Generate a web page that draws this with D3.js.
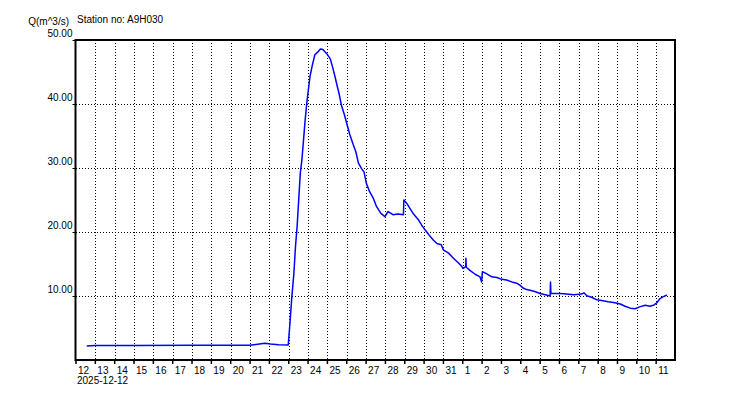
<!DOCTYPE html>
<html>
<head>
<meta charset="utf-8">
<script src="https://cdn.jsdelivr.net/npm/d3@7"></script>
<style>
  body { margin: 0; background: #fff; }
  svg text { font-family: "Liberation Sans", Arial, sans-serif; fill: #000; }
</style>
</head>
<body>
<div id="chart"></div>
<script>
// flow chart for station A9H030
var svgWidth = 750;
var svgHeight = 400;

var margin = { top: 40, right: 75, bottom: 40, left: 75.5 };

var stationName = "Station no: A9H030";
var yTitle = "Q(m^3/s)";
var startLabel = "2025-12-12";
var yTicks = [10, 20, 30, 40, 50];

// times are local "YYYY-MM-DD HH:MM"
var times = [
  "2025-12-12 14:00", "2025-12-13 00:00", "2025-12-15 00:00", "2025-12-18 00:00", "2025-12-21 00:00",
  "2025-12-21 19:00", "2025-12-22 02:00", "2025-12-22 12:00", "2025-12-23 00:00", "2025-12-23 00:30",
  "2025-12-23 02:00", "2025-12-23 04:30", "2025-12-23 07:00", "2025-12-23 09:00", "2025-12-23 11:00",
  "2025-12-23 13:00", "2025-12-23 15:00", "2025-12-23 17:00", "2025-12-23 19:00", "2025-12-23 21:00",
  "2025-12-23 23:00", "2025-12-24 01:00", "2025-12-24 03:00", "2025-12-24 06:00", "2025-12-24 09:00",
  "2025-12-24 12:30", "2025-12-24 16:00", "2025-12-24 19:00", "2025-12-24 23:30", "2025-12-25 04:00",
  "2025-12-25 07:00", "2025-12-25 10:00", "2025-12-25 13:00", "2025-12-25 15:30", "2025-12-25 18:00",
  "2025-12-25 22:00", "2025-12-26 01:00", "2025-12-26 04:30", "2025-12-26 08:30", "2025-12-26 12:00",
  "2025-12-26 15:00", "2025-12-26 19:00", "2025-12-26 22:00", "2025-12-27 01:00", "2025-12-27 05:00",
  "2025-12-27 09:30", "2025-12-27 13:30", "2025-12-27 19:00", "2025-12-28 00:00", "2025-12-28 04:00",
  "2025-12-28 10:00", "2025-12-28 16:30", "2025-12-28 23:00", "2025-12-28 23:30", "2025-12-29 03:00",
  "2025-12-29 07:00", "2025-12-29 11:00", "2025-12-29 17:00", "2025-12-29 21:30", "2025-12-30 02:00",
  "2025-12-30 07:00", "2025-12-30 12:00", "2025-12-30 16:30", "2025-12-30 22:00", "2025-12-31 00:30",
  "2025-12-31 07:00", "2025-12-31 13:00", "2025-12-31 19:00", "2025-12-31 23:00", "2026-01-01 01:00",
  "2026-01-01 04:20", "2026-01-01 04:30", "2026-01-01 05:00", "2026-01-01 09:30", "2026-01-01 16:00",
  "2026-01-01 22:00", "2026-01-02 00:00", "2026-01-02 01:00", "2026-01-02 06:00", "2026-01-02 12:30",
  "2026-01-02 19:00", "2026-01-03 01:00", "2026-01-03 07:00", "2026-01-03 13:30", "2026-01-03 19:30",
  "2026-01-03 23:30", "2026-01-04 04:00", "2026-01-04 08:00", "2026-01-04 12:00", "2026-01-04 18:00",
  "2026-01-05 00:30", "2026-01-05 07:00", "2026-01-05 13:00", "2026-01-05 13:30", "2026-01-05 14:00",
  "2026-01-06 01:00", "2026-01-06 09:30", "2026-01-06 18:00", "2026-01-07 04:00", "2026-01-07 07:00",
  "2026-01-07 10:30", "2026-01-07 16:30", "2026-01-07 23:00", "2026-01-08 05:00", "2026-01-08 13:00",
  "2026-01-08 21:30", "2026-01-09 04:00", "2026-01-09 10:00", "2026-01-09 16:30", "2026-01-09 22:30",
  "2026-01-10 04:00", "2026-01-10 11:00", "2026-01-10 17:00", "2026-01-10 22:00", "2026-01-11 01:30",
  "2026-01-11 05:30", "2026-01-11 09:30", "2026-01-11 14:00"
];

var flows = [
  2.2, 2.25, 2.25, 2.3, 2.3,
  2.6, 2.5, 2.4, 2.35, 3.1,
  5.5, 9.9, 13.5, 17.7, 20.8,
  25.0, 29.2, 31.3, 34.4, 37.5,
  40.1, 42.2, 44.3, 46.1, 47.7,
  48.1, 48.6, 48.5, 47.9, 47.1,
  45.8, 44.3, 42.7, 41.4, 39.8,
  38.2, 36.8, 35.2, 33.7, 32.5,
  30.8, 29.9, 29.4, 27.6, 26.3,
  25.3, 24.0, 22.9, 22.4, 23.2,
  22.7, 22.8, 22.7, 25.0, 24.5,
  23.7, 22.9, 22.0, 21.1, 20.3,
  19.5, 18.75, 18.2, 18.0, 17.2,
  16.7, 15.9, 15.2, 14.7, 14.3,
  14.6, 15.9, 14.5, 14.0, 13.4,
  13.0, 12.2, 13.8, 13.5, 13.0,
  12.9, 12.6, 12.5, 12.2, 12.0,
  11.7, 11.2, 11.0, 10.9, 10.7,
  10.4, 10.2, 10.0, 12.2, 10.4,
  10.4, 10.3, 10.2, 10.3, 10.5,
  10.05, 9.8, 9.4, 9.3, 9.1,
  8.95, 8.75, 8.4, 8.1, 8.0,
  8.3, 8.55, 8.4, 8.6, 8.95,
  9.6, 9.9, 10.15
];

var parseTime = d3.timeParse("%Y-%m-%d %H:%M");
var chartData = times.map(function(t, i) {
  return { date: parseTime(t), q: flows[i] };
});

var width = svgWidth - margin.left - margin.right;
var height = svgHeight - margin.top - margin.bottom;

var svg = d3.select("#chart")
  .append("svg")
  .attr("width", svgWidth)
  .attr("height", svgHeight);

var chartGroup = svg.append("g")
  .attr("transform", `translate(${margin.left}, ${margin.top})`);

var xScale = d3.scaleTime()
  .domain([parseTime("2025-12-12 00:00"), parseTime("2026-01-12 00:00")])
  .range([0, width]);

var yScale = d3.scaleLinear()
  .domain([0, 50])
  .range([height, 0]);

var dayTicks = d3.timeDay.range(parseTime("2025-12-12 00:00"), parseTime("2026-01-12 00:00"));

// dotted grid
chartGroup.append("g")
  .selectAll("line")
  .data(dayTicks.slice(1))
  .join("line")
  .attr("x1", d => Math.round(xScale(d)) + 0.5)
  .attr("x2", d => Math.round(xScale(d)) + 0.5)
  .attr("y1", 0)
  .attr("y2", height)
  .attr("stroke", "#000")
  .attr("stroke-dasharray", "1,2")
  .attr("shape-rendering", "crispEdges");

chartGroup.append("g")
  .selectAll("line")
  .data(yTicks.slice(0, -1))
  .join("line")
  .attr("x1", 0)
  .attr("x2", width)
  .attr("y1", d => Math.round(yScale(d)) + 0.5)
  .attr("y2", d => Math.round(yScale(d)) + 0.5)
  .attr("stroke", "#000")
  .attr("stroke-dasharray", "1,2")
  .attr("shape-rendering", "crispEdges");

// x axis
var bottomAxis = d3.axisBottom(xScale)
  .tickValues(dayTicks)
  .tickSize(4)
  .tickFormat(d3.timeFormat("%-d"));

var xAxis = chartGroup.append("g")
  .attr("transform", `translate(0, ${height})`)
  .call(bottomAxis);
xAxis.select(".domain").remove();
xAxis.selectAll(".tick line").attr("stroke-width", 1.5);
xAxis.selectAll(".tick text")
  .attr("x", 2)
  .attr("y", 7)
  .attr("text-anchor", "start")
  .style("font-size", "10px");

// y axis
var leftAxis = d3.axisLeft(yScale)
  .tickValues(yTicks)
  .tickSize(3)
  .tickFormat(d3.format(".2f"));

var yAxis = chartGroup.append("g")
  .call(leftAxis);
yAxis.select(".domain").remove();
yAxis.selectAll(".tick text")
  .attr("x", -3)
  .attr("dy", "-0.35em")
  .style("font-size", "10px");

// frame
chartGroup.append("rect")
  .attr("x", 0)
  .attr("y", 0)
  .attr("width", width)
  .attr("height", height)
  .attr("fill", "none")
  .attr("stroke", "#000")
  .attr("stroke-width", 2);

// flow line
var line = d3.line()
  .x(d => xScale(d.date))
  .y(d => yScale(d.q));

chartGroup.append("path")
  .datum(chartData)
  .attr("fill", "none")
  .attr("stroke", "#0000ff")
  .attr("stroke-width", 1.5)
  .attr("stroke-linejoin", "round")
  .attr("d", line);

// labels
svg.append("text")
  .attr("x", 69)
  .attr("y", 25)
  .attr("text-anchor", "end")
  .style("font-size", "10px")
  .text(yTitle);

svg.append("text")
  .attr("x", 77)
  .attr("y", 23)
  .style("font-size", "10px")
  .text(stationName);

svg.append("text")
  .attr("x", 77)
  .attr("y", 384)
  .style("font-size", "10px")
  .text(startLabel);
</script>
</body>
</html>
